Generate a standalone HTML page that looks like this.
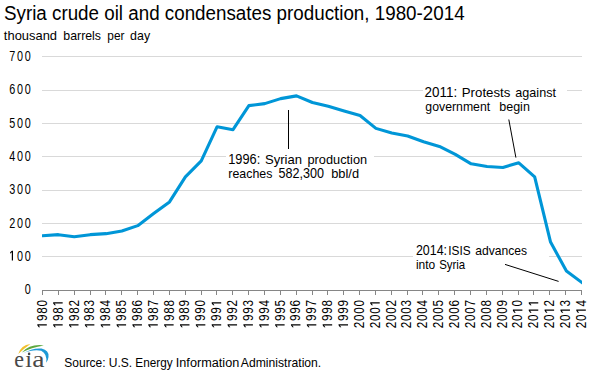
<!DOCTYPE html>
<html><head><meta charset="utf-8">
<style>
html,body{margin:0;padding:0;background:#fff;}
svg{display:block;}
text{font-family:"Liberation Sans",sans-serif;fill:#000;}
.l{font-size:13px;}
.t{font-size:18.8px;}
.e{font-family:"Liberation Serif",serif;font-size:25px;fill:#3a3a3a;}
</style></head><body>
<svg width="590" height="371" viewBox="0 0 590 371">
<rect x="42" y="56" width="540" height="1" fill="#d9d9d9"/>
<rect x="42" y="90" width="540" height="1" fill="#d9d9d9"/>
<rect x="42" y="123" width="540" height="1" fill="#d9d9d9"/>
<rect x="42" y="156" width="540" height="1" fill="#d9d9d9"/>
<rect x="42" y="190" width="540" height="1" fill="#d9d9d9"/>
<rect x="42" y="223" width="540" height="1" fill="#d9d9d9"/>
<rect x="42" y="256" width="540" height="1" fill="#d9d9d9"/>
<rect x="42" y="290" width="540" height="1" fill="#868686"/>
<rect x="42" y="290" width="1" height="5" fill="#868686"/>
<rect x="58" y="290" width="1" height="5" fill="#868686"/>
<rect x="74" y="290" width="1" height="5" fill="#868686"/>
<rect x="90" y="290" width="1" height="5" fill="#868686"/>
<rect x="105" y="290" width="1" height="5" fill="#868686"/>
<rect x="121" y="290" width="1" height="5" fill="#868686"/>
<rect x="137" y="290" width="1" height="5" fill="#868686"/>
<rect x="153" y="290" width="1" height="5" fill="#868686"/>
<rect x="169" y="290" width="1" height="5" fill="#868686"/>
<rect x="185" y="290" width="1" height="5" fill="#868686"/>
<rect x="201" y="290" width="1" height="5" fill="#868686"/>
<rect x="216" y="290" width="1" height="5" fill="#868686"/>
<rect x="232" y="290" width="1" height="5" fill="#868686"/>
<rect x="248" y="290" width="1" height="5" fill="#868686"/>
<rect x="264" y="290" width="1" height="5" fill="#868686"/>
<rect x="280" y="290" width="1" height="5" fill="#868686"/>
<rect x="296" y="290" width="1" height="5" fill="#868686"/>
<rect x="312" y="290" width="1" height="5" fill="#868686"/>
<rect x="327" y="290" width="1" height="5" fill="#868686"/>
<rect x="343" y="290" width="1" height="5" fill="#868686"/>
<rect x="359" y="290" width="1" height="5" fill="#868686"/>
<rect x="375" y="290" width="1" height="5" fill="#868686"/>
<rect x="391" y="290" width="1" height="5" fill="#868686"/>
<rect x="407" y="290" width="1" height="5" fill="#868686"/>
<rect x="422" y="290" width="1" height="5" fill="#868686"/>
<rect x="438" y="290" width="1" height="5" fill="#868686"/>
<rect x="454" y="290" width="1" height="5" fill="#868686"/>
<rect x="470" y="290" width="1" height="5" fill="#868686"/>
<rect x="486" y="290" width="1" height="5" fill="#868686"/>
<rect x="502" y="290" width="1" height="5" fill="#868686"/>
<rect x="518" y="290" width="1" height="5" fill="#868686"/>
<rect x="533" y="290" width="1" height="5" fill="#868686"/>
<rect x="549" y="290" width="1" height="5" fill="#868686"/>
<rect x="565" y="290" width="1" height="5" fill="#868686"/>
<rect x="581" y="290" width="1" height="5" fill="#868686"/>
<g transform="translate(0,60.6) scale(0.8,1.057)"><text x="11.50 21.18 30.87" style="font-size:13.5px;white-space:pre" xml:space="preserve" class="l">700</text></g>
<g transform="translate(0,93.6) scale(0.8,1.057)"><text x="11.50 21.18 30.87" style="font-size:13.5px;white-space:pre" xml:space="preserve" class="l">600</text></g>
<g transform="translate(0,127.6) scale(0.8,1.057)"><text x="11.50 21.18 30.87" style="font-size:13.5px;white-space:pre" xml:space="preserve" class="l">500</text></g>
<g transform="translate(0,160.6) scale(0.8,1.057)"><text x="11.50 21.18 30.87" style="font-size:13.5px;white-space:pre" xml:space="preserve" class="l">400</text></g>
<g transform="translate(0,193.6) scale(0.8,1.057)"><text x="11.50 21.18 30.87" style="font-size:13.5px;white-space:pre" xml:space="preserve" class="l">300</text></g>
<g transform="translate(0,227.6) scale(0.8,1.057)"><text x="11.50 21.18 30.87" style="font-size:13.5px;white-space:pre" xml:space="preserve" class="l">200</text></g>
<g transform="translate(0,260.6) scale(0.8,1.057)"><text x="11.50 21.18 30.87" style="font-size:13.5px;white-space:pre" xml:space="preserve" class="l"> 00</text><path transform="translate(11.50,0) scale(0.00659,-0.00659)" d="M495 0V1215L180 990V1200L515 1409H720V0Z"/></g>
<g transform="translate(0,293.6) scale(0.8,1.057)"><text x="30.87" style="font-size:13.5px;white-space:pre" xml:space="preserve" class="l">0</text></g>
<g transform="translate(46.81,328.27) rotate(-90) scale(0.85,1)"><text x="0.00 8.59 17.18 25.76" style="font-size:13.8px;white-space:pre" xml:space="preserve" class="l"> 980</text><path transform="translate(0.00,0) scale(0.00674,-0.00674)" d="M495 0V1215L180 990V1200L515 1409H720V0Z"/></g>
<g transform="translate(62.67,328.27) rotate(-90) scale(0.85,1)"><text x="0.00 8.59 17.18 25.76" style="font-size:13.8px;white-space:pre" xml:space="preserve" class="l"> 98 </text><path transform="translate(0.00,0) scale(0.00674,-0.00674)" d="M495 0V1215L180 990V1200L515 1409H720V0Z"/><path transform="translate(25.76,0) scale(0.00674,-0.00674)" d="M495 0V1215L180 990V1200L515 1409H720V0Z"/></g>
<g transform="translate(78.52,328.27) rotate(-90) scale(0.85,1)"><text x="0.00 8.59 17.18 25.76" style="font-size:13.8px;white-space:pre" xml:space="preserve" class="l"> 982</text><path transform="translate(0.00,0) scale(0.00674,-0.00674)" d="M495 0V1215L180 990V1200L515 1409H720V0Z"/></g>
<g transform="translate(94.37,328.27) rotate(-90) scale(0.85,1)"><text x="0.00 8.59 17.18 25.76" style="font-size:13.8px;white-space:pre" xml:space="preserve" class="l"> 983</text><path transform="translate(0.00,0) scale(0.00674,-0.00674)" d="M495 0V1215L180 990V1200L515 1409H720V0Z"/></g>
<g transform="translate(110.22,328.27) rotate(-90) scale(0.85,1)"><text x="0.00 8.59 17.18 25.76" style="font-size:13.8px;white-space:pre" xml:space="preserve" class="l"> 984</text><path transform="translate(0.00,0) scale(0.00674,-0.00674)" d="M495 0V1215L180 990V1200L515 1409H720V0Z"/></g>
<g transform="translate(126.08,328.27) rotate(-90) scale(0.85,1)"><text x="0.00 8.59 17.18 25.76" style="font-size:13.8px;white-space:pre" xml:space="preserve" class="l"> 985</text><path transform="translate(0.00,0) scale(0.00674,-0.00674)" d="M495 0V1215L180 990V1200L515 1409H720V0Z"/></g>
<g transform="translate(141.93,328.27) rotate(-90) scale(0.85,1)"><text x="0.00 8.59 17.18 25.76" style="font-size:13.8px;white-space:pre" xml:space="preserve" class="l"> 986</text><path transform="translate(0.00,0) scale(0.00674,-0.00674)" d="M495 0V1215L180 990V1200L515 1409H720V0Z"/></g>
<g transform="translate(157.78,328.27) rotate(-90) scale(0.85,1)"><text x="0.00 8.59 17.18 25.76" style="font-size:13.8px;white-space:pre" xml:space="preserve" class="l"> 987</text><path transform="translate(0.00,0) scale(0.00674,-0.00674)" d="M495 0V1215L180 990V1200L515 1409H720V0Z"/></g>
<g transform="translate(173.64,328.27) rotate(-90) scale(0.85,1)"><text x="0.00 8.59 17.18 25.76" style="font-size:13.8px;white-space:pre" xml:space="preserve" class="l"> 988</text><path transform="translate(0.00,0) scale(0.00674,-0.00674)" d="M495 0V1215L180 990V1200L515 1409H720V0Z"/></g>
<g transform="translate(189.49,328.27) rotate(-90) scale(0.85,1)"><text x="0.00 8.59 17.18 25.76" style="font-size:13.8px;white-space:pre" xml:space="preserve" class="l"> 989</text><path transform="translate(0.00,0) scale(0.00674,-0.00674)" d="M495 0V1215L180 990V1200L515 1409H720V0Z"/></g>
<g transform="translate(205.34,328.27) rotate(-90) scale(0.85,1)"><text x="0.00 8.59 17.18 25.76" style="font-size:13.8px;white-space:pre" xml:space="preserve" class="l"> 990</text><path transform="translate(0.00,0) scale(0.00674,-0.00674)" d="M495 0V1215L180 990V1200L515 1409H720V0Z"/></g>
<g transform="translate(221.20,328.27) rotate(-90) scale(0.85,1)"><text x="0.00 8.59 17.18 25.76" style="font-size:13.8px;white-space:pre" xml:space="preserve" class="l"> 99 </text><path transform="translate(0.00,0) scale(0.00674,-0.00674)" d="M495 0V1215L180 990V1200L515 1409H720V0Z"/><path transform="translate(25.76,0) scale(0.00674,-0.00674)" d="M495 0V1215L180 990V1200L515 1409H720V0Z"/></g>
<g transform="translate(237.05,328.27) rotate(-90) scale(0.85,1)"><text x="0.00 8.59 17.18 25.76" style="font-size:13.8px;white-space:pre" xml:space="preserve" class="l"> 992</text><path transform="translate(0.00,0) scale(0.00674,-0.00674)" d="M495 0V1215L180 990V1200L515 1409H720V0Z"/></g>
<g transform="translate(252.90,328.27) rotate(-90) scale(0.85,1)"><text x="0.00 8.59 17.18 25.76" style="font-size:13.8px;white-space:pre" xml:space="preserve" class="l"> 993</text><path transform="translate(0.00,0) scale(0.00674,-0.00674)" d="M495 0V1215L180 990V1200L515 1409H720V0Z"/></g>
<g transform="translate(268.75,328.27) rotate(-90) scale(0.85,1)"><text x="0.00 8.59 17.18 25.76" style="font-size:13.8px;white-space:pre" xml:space="preserve" class="l"> 994</text><path transform="translate(0.00,0) scale(0.00674,-0.00674)" d="M495 0V1215L180 990V1200L515 1409H720V0Z"/></g>
<g transform="translate(284.61,328.27) rotate(-90) scale(0.85,1)"><text x="0.00 8.59 17.18 25.76" style="font-size:13.8px;white-space:pre" xml:space="preserve" class="l"> 995</text><path transform="translate(0.00,0) scale(0.00674,-0.00674)" d="M495 0V1215L180 990V1200L515 1409H720V0Z"/></g>
<g transform="translate(300.46,328.27) rotate(-90) scale(0.85,1)"><text x="0.00 8.59 17.18 25.76" style="font-size:13.8px;white-space:pre" xml:space="preserve" class="l"> 996</text><path transform="translate(0.00,0) scale(0.00674,-0.00674)" d="M495 0V1215L180 990V1200L515 1409H720V0Z"/></g>
<g transform="translate(316.31,328.27) rotate(-90) scale(0.85,1)"><text x="0.00 8.59 17.18 25.76" style="font-size:13.8px;white-space:pre" xml:space="preserve" class="l"> 997</text><path transform="translate(0.00,0) scale(0.00674,-0.00674)" d="M495 0V1215L180 990V1200L515 1409H720V0Z"/></g>
<g transform="translate(332.17,328.27) rotate(-90) scale(0.85,1)"><text x="0.00 8.59 17.18 25.76" style="font-size:13.8px;white-space:pre" xml:space="preserve" class="l"> 998</text><path transform="translate(0.00,0) scale(0.00674,-0.00674)" d="M495 0V1215L180 990V1200L515 1409H720V0Z"/></g>
<g transform="translate(348.02,328.27) rotate(-90) scale(0.85,1)"><text x="0.00 8.59 17.18 25.76" style="font-size:13.8px;white-space:pre" xml:space="preserve" class="l"> 999</text><path transform="translate(0.00,0) scale(0.00674,-0.00674)" d="M495 0V1215L180 990V1200L515 1409H720V0Z"/></g>
<g transform="translate(363.87,328.27) rotate(-90) scale(0.85,1)"><text x="0.00 8.59 17.18 25.76" style="font-size:13.8px;white-space:pre" xml:space="preserve" class="l">2000</text></g>
<g transform="translate(379.72,328.27) rotate(-90) scale(0.85,1)"><text x="0.00 8.59 17.18 25.76" style="font-size:13.8px;white-space:pre" xml:space="preserve" class="l">200 </text><path transform="translate(25.76,0) scale(0.00674,-0.00674)" d="M495 0V1215L180 990V1200L515 1409H720V0Z"/></g>
<g transform="translate(395.58,328.27) rotate(-90) scale(0.85,1)"><text x="0.00 8.59 17.18 25.76" style="font-size:13.8px;white-space:pre" xml:space="preserve" class="l">2002</text></g>
<g transform="translate(411.43,328.27) rotate(-90) scale(0.85,1)"><text x="0.00 8.59 17.18 25.76" style="font-size:13.8px;white-space:pre" xml:space="preserve" class="l">2003</text></g>
<g transform="translate(427.28,328.27) rotate(-90) scale(0.85,1)"><text x="0.00 8.59 17.18 25.76" style="font-size:13.8px;white-space:pre" xml:space="preserve" class="l">2004</text></g>
<g transform="translate(443.14,328.27) rotate(-90) scale(0.85,1)"><text x="0.00 8.59 17.18 25.76" style="font-size:13.8px;white-space:pre" xml:space="preserve" class="l">2005</text></g>
<g transform="translate(458.99,328.27) rotate(-90) scale(0.85,1)"><text x="0.00 8.59 17.18 25.76" style="font-size:13.8px;white-space:pre" xml:space="preserve" class="l">2006</text></g>
<g transform="translate(474.84,328.27) rotate(-90) scale(0.85,1)"><text x="0.00 8.59 17.18 25.76" style="font-size:13.8px;white-space:pre" xml:space="preserve" class="l">2007</text></g>
<g transform="translate(490.70,328.27) rotate(-90) scale(0.85,1)"><text x="0.00 8.59 17.18 25.76" style="font-size:13.8px;white-space:pre" xml:space="preserve" class="l">2008</text></g>
<g transform="translate(506.55,328.27) rotate(-90) scale(0.85,1)"><text x="0.00 8.59 17.18 25.76" style="font-size:13.8px;white-space:pre" xml:space="preserve" class="l">2009</text></g>
<g transform="translate(522.40,328.27) rotate(-90) scale(0.85,1)"><text x="0.00 8.59 17.18 25.76" style="font-size:13.8px;white-space:pre" xml:space="preserve" class="l">20 0</text><path transform="translate(17.18,0) scale(0.00674,-0.00674)" d="M495 0V1215L180 990V1200L515 1409H720V0Z"/></g>
<g transform="translate(538.25,328.27) rotate(-90) scale(0.85,1)"><text x="0.00 8.59 17.18 25.76" style="font-size:13.8px;white-space:pre" xml:space="preserve" class="l">20  </text><path transform="translate(17.18,0) scale(0.00674,-0.00674)" d="M495 0V1215L180 990V1200L515 1409H720V0Z"/><path transform="translate(25.76,0) scale(0.00674,-0.00674)" d="M495 0V1215L180 990V1200L515 1409H720V0Z"/></g>
<g transform="translate(554.11,328.27) rotate(-90) scale(0.85,1)"><text x="0.00 8.59 17.18 25.76" style="font-size:13.8px;white-space:pre" xml:space="preserve" class="l">20 2</text><path transform="translate(17.18,0) scale(0.00674,-0.00674)" d="M495 0V1215L180 990V1200L515 1409H720V0Z"/></g>
<g transform="translate(569.96,328.27) rotate(-90) scale(0.85,1)"><text x="0.00 8.59 17.18 25.76" style="font-size:13.8px;white-space:pre" xml:space="preserve" class="l">20 3</text><path transform="translate(17.18,0) scale(0.00674,-0.00674)" d="M495 0V1215L180 990V1200L515 1409H720V0Z"/></g>
<g transform="translate(585.81,328.27) rotate(-90) scale(0.85,1)"><text x="0.00 8.59 17.18 25.76" style="font-size:13.8px;white-space:pre" xml:space="preserve" class="l">20 4</text><path transform="translate(17.18,0) scale(0.00674,-0.00674)" d="M495 0V1215L180 990V1200L515 1409H720V0Z"/></g>
<rect x="226" y="150" width="148" height="32" fill="#fff"/>
<rect x="288" y="110" width="1" height="39" fill="#000"/>
<rect x="423" y="83" width="144" height="32" fill="#fff"/>
<line x1="508.8" y1="119.5" x2="515.9" y2="157.6" stroke="#000" stroke-width="1"/>
<rect x="413" y="242" width="136" height="30" fill="#fff"/>
<line x1="505" y1="264.4" x2="558.6" y2="281.4" stroke="#000" stroke-width="1"/>
<text transform="translate(228.19,163.70) scale(0.9840,1.0800)" style="font-size:13px" class="l">1996:</text>
<text transform="translate(264.96,163.70) scale(1.0059,1.0000)" style="font-size:13px" class="l">Syrian</text>
<text transform="translate(307.52,163.70) scale(0.9827,1.0000)" style="font-size:13px" class="l">production</text>
<text transform="translate(228.31,178.30) scale(0.9529,1.0000)" style="font-size:13px" class="l">reaches</text>
<text transform="translate(278.55,178.30) scale(0.9705,1.0800)" style="font-size:13px" class="l">582,300</text>
<text transform="translate(331.22,178.30) scale(0.9879,1.0000)" style="font-size:13px" class="l">bbl/d</text>
<text transform="translate(424.58,96.80) scale(1.0324,1.0800)" style="font-size:13px" class="l">2011:</text>
<text transform="translate(461.76,96.80) scale(1.0206,1.0000)" style="font-size:13px" class="l">Protests</text>
<text transform="translate(515.31,96.80) scale(0.9715,1.0000)" style="font-size:13px" class="l">against</text>
<text transform="translate(425.33,111.00) scale(0.9457,1.0000)" style="font-size:13px" class="l">government</text>
<text transform="translate(499.24,111.00) scale(0.9636,1.0000)" style="font-size:13px" class="l">begin</text>
<text transform="translate(415.93,255.00) scale(0.9573,1.0800)" style="font-size:13px" class="l">2014:</text>
<text transform="translate(448.25,255.00) scale(0.9143,1.0000)" style="font-size:13px" class="l">ISIS</text>
<text transform="translate(475.23,255.00) scale(0.9335,1.0000)" style="font-size:13px" class="l">advances</text>
<text transform="translate(415.94,268.60) scale(0.9215,1.0000)" style="font-size:13px" class="l">into</text>
<text transform="translate(439.13,268.60) scale(0.8821,1.0000)" style="font-size:13px" class="l">Syria</text>
<clipPath id="pa"><rect x="42" y="0" width="540" height="371"/></clipPath>
<polyline clip-path="url(#pa)" points="42.50,235.68 58.38,234.67 74.25,236.68 90.13,234.67 106.01,233.67 121.88,231.00 137.76,225.65 153.64,213.61 169.51,201.91 185.39,176.84 201.26,160.80 217.14,126.70 233.02,129.71 248.89,105.64 264.77,103.63 280.65,98.62 296.52,95.85 312.40,102.46 328.28,106.31 344.15,110.99 360.03,115.50 375.91,128.37 391.78,133.05 407.66,136.06 423.54,141.74 439.41,146.42 455.29,154.45 471.16,163.81 487.04,166.48 502.92,167.48 518.79,162.80 534.67,176.84 550.55,242.03 566.42,271.11 582.30,282.81" fill="none" stroke="#0096d7" stroke-width="3.1" stroke-linejoin="round" stroke-linecap="round"/>
<text transform="translate(4,19.55) scale(1,1.06)" class="t">Syria crude oil and condensates production, 1980-2014</text>
<text transform="translate(3.86,39.70) scale(0.9951,1.0000)" style="font-size:13px" class="l">thousand</text>
<text transform="translate(63.35,39.70) scale(0.9493,1.0000)" style="font-size:13px" class="l">barrels</text>
<text transform="translate(107.28,39.70) scale(0.9129,1.0000)" style="font-size:13px" class="l">per</text>
<text transform="translate(130.12,39.70) scale(0.9569,1.0000)" style="font-size:13px" class="l">day</text>
<text transform="translate(64.31,366.70) scale(0.9995,1.0000)" style="font-size:12px" class="l">Source:</text>
<text transform="translate(108.72,366.70) scale(1.0033,1.0000)" style="font-size:12px" class="l">U.S.</text>
<text transform="translate(135.28,366.70) scale(0.9813,1.0000)" style="font-size:12px" class="l">Energy</text>
<text transform="translate(175.78,366.70) scale(1.0578,1.0000)" style="font-size:12px" class="l">Information</text>
<text transform="translate(240.82,366.70) scale(1.0135,1.0000)" style="font-size:12px" class="l">Administration.</text>
<text transform="translate(14.32,367.40) scale(0.9122,1)" style="font-family:Liberation Serif,serif;font-size:24px;fill:#484848">e</text>
<text transform="translate(25.32,367.40) scale(1.0069,1)" style="font-family:Liberation Serif,serif;font-size:24px;fill:#484848">&#x131;</text>
<text transform="translate(32.33,367.40) scale(1.1498,1)" style="font-family:Liberation Serif,serif;font-size:24px;fill:#484848">a</text>
<circle cx="29.1" cy="353.9" r="1.3" fill="#484848"/>
<path d="M18.2,354 Q20.8,345 30.4,343.9 Q24.2,348.3 18.2,354 Z" fill="#f2c12e"/>
<path d="M21.8,352.4 Q30.2,343.6 43.9,345.4 Q31.2,347.6 21.8,352.4 Z" fill="#5ea83f"/>
<path d="M22.6,353.6 Q33,347.6 41.5,348.6 Q49.3,350.2 48.5,357 Q48.1,360.5 46.2,362.8 Q47.4,353.8 41.2,350.8 Q33.5,349 22.6,353.6 Z" fill="#1c9ad6"/>
</svg>
</body></html>
